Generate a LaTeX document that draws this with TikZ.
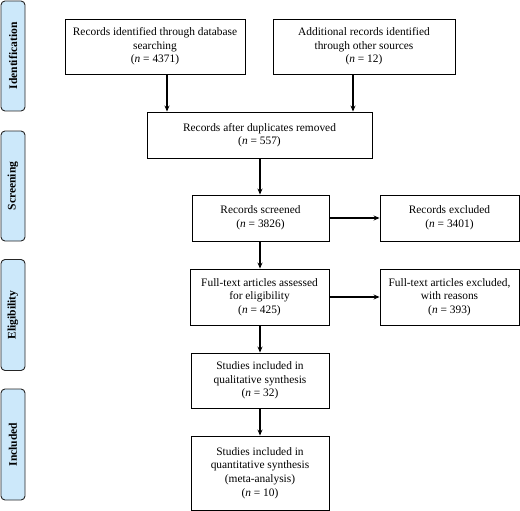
\documentclass[tikz,border=0pt]{standalone}
\usepackage{fontspec}
\setmainfont{Liberation Serif}
\usetikzlibrary{arrows.meta,calc}
\definecolor{sidebg}{RGB}{204,232,250}
\begin{document}
\begin{tikzpicture}[x=1pt,y=-1pt,
  flowbox/.style={draw=black,line width=0.9pt,fill=white,align=center,inner sep=2pt,
    font=\fontsize{11.4}{13.6}\selectfont},
  sidebox/.style={draw=black!85,line width=0.9pt,fill=sidebg,rounded corners=4pt,rotate=90,
    minimum height=24pt,inner sep=0pt,font=\bfseries\fontsize{11.6}{12}\selectfont},
  arr/.style={line width=1.2pt,-{Stealth[length=6pt,width=5pt]}}]
\useasboundingbox (0,0) rectangle (520,511);
% side labels
\node[sidebox,minimum width=110pt] (sid) at (13,56) {Identification};
\node[sidebox,minimum width=110pt] (sscr) at (13,186) {Screening};
\node[sidebox,minimum width=111pt] (selig) at (13,315) {Eligibility};
\node[sidebox,minimum width=111pt] (sinc) at (13,444.5) {Included};
% boxes
\node[flowbox,minimum width=180pt,minimum height=55pt] (b1) at (155,46.5)
  {Records identified through database\\searching\\(\textit{n} = 4371)};
\node[flowbox,minimum width=182pt,minimum height=55pt] (b2) at (364,46.5)
  {Additional records identified\\through other sources\\(\textit{n} = 12)};
\node[flowbox,minimum width=225pt,minimum height=46pt] (b3) at (259.5,135)
  {Records after duplicates removed\\(\textit{n} = 557)};
\node[flowbox,minimum width=137pt,minimum height=46pt] (b4) at (260.5,218)
  {Records screened\\(\textit{n} = 3826)};
\node[flowbox,minimum width=139pt,minimum height=46pt] (b5) at (449.5,218)
  {Records excluded\\(\textit{n} = 3401)};
\node[flowbox,minimum width=139pt,minimum height=56pt] (b6) at (259.5,297)
  {Full-text articles assessed\\for eligibility\\(\textit{n} = 425)};
\node[flowbox,minimum width=139pt,minimum height=56pt] (b7) at (449.5,297)
  {Full-text articles excluded,\\with reasons\\(\textit{n} = 393)};
\node[flowbox,minimum width=138pt,minimum height=55pt] (b8) at (260,380.5)
  {Studies included in\\qualitative synthesis\\(\textit{n} = 32)};
\node[flowbox,minimum width=138pt,minimum height=74pt] (b9) at (260,473)
  {Studies included in\\quantitative synthesis\\(meta-analysis)\\(\textit{n} = 10)};
% connector anchors
\coordinate (xa) at (167,0);
\coordinate (xb) at (353,0);
\coordinate (xc) at (260,0);
\draw[arr] (b1.south -| xa) -- (b3.north -| xa);
\draw[arr] (b2.south -| xb) -- (b3.north -| xb);
\draw[arr] (b3.south -| xc) -- (b4.north -| xc);
\draw[arr] (b4.south -| xc) -- (b6.north -| xc);
\draw[arr] (b6.south -| xc) -- (b8.north -| xc);
\draw[arr] (b8.south -| xc) -- (b9.north -| xc);
\draw[arr] (b4.east) -- (b5.west);
\draw[arr] (b6.east) -- (b7.west);
\end{tikzpicture}
\end{document}
